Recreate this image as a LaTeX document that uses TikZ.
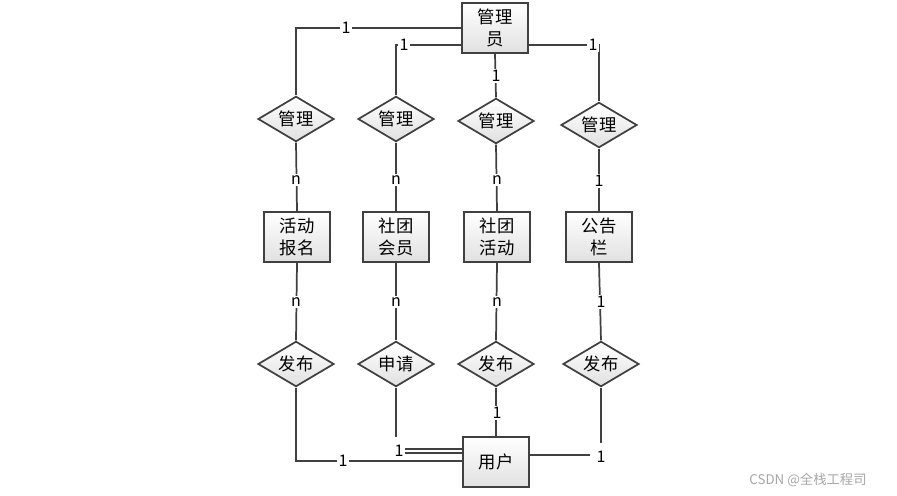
\documentclass[tikz,border=0pt]{standalone}
\usepackage{fontspec}
\setmainfont{Noto Sans CJK SC}
\usetikzlibrary{shapes.geometric}
\begin{document}
\begin{tikzpicture}[x=0.75pt,y=-0.75pt,
 ent/.style={draw=black!75,line width=1.3pt,top color=white,bottom color=black!12,minimum width=50pt,minimum height=38pt,inner sep=0pt,align=center,font=\fontsize{13}{16}\selectfont},
 rel/.style={diamond,aspect=1.67,draw=black!75,line width=1.3pt,top color=white,bottom color=black!12,minimum width=57pt,minimum height=34pt,inner sep=0pt,font=\fontsize{13}{15}\selectfont},
 ln/.style={draw=black!75,line width=1.3pt},
 lab/.style={fill=white,inner sep=1pt,font=\fontsize{12}{12}\selectfont}]
\useasboundingbox (0,0) rectangle (897,496);
\node[ent] (adm) at (495,28) {管理\\员};
\node[rel] (d1) at (296,119) {管理};
\node[rel] (d2) at (396,119) {管理};
\node[rel] (d3) at (496,121) {管理};
\node[rel] (d4) at (599,125) {管理};
\node[ent] (e1) at (297,237) {活动\\报名};
\node[ent] (e2) at (396,237) {社团\\会员};
\node[ent] (e3) at (497,237) {社团\\活动};
\node[ent] (e4) at (599,237) {公告\\栏};
\node[rel] (f1) at (296,364) {发布};
\node[rel] (f2) at (396,364) {申请};
\node[rel] (f3) at (496,364) {发布};
\node[rel] (f4) at (601,364) {发布};
\node[ent] (usr) at (496,462) {用户};
% top connectors
\draw[ln] (adm.west |- 0,28) -- (296,28) -- (d1.north);
\draw[ln] (adm.west |- 0,45) -- (396,45) -- (d2.north);
\draw[ln] (adm.east |- 0,45) -- (599,45) -- (d4.north);
\draw[ln] (adm.south) -- (d3.north);
\node[lab] (l1) at (346,28) {1};
\node[lab] (l2) at (404,45) {1};
\node[lab] (l3) at (593,45) {1};
\node[lab] (l4) at (496,76) {1};
% middle
\foreach \d/\e in {d1/e1,d2/e2,d3/e3,d4/e4,e1/f1,e2/f2,e3/f3,e4/f4}{\draw[ln] (\d.south) -- (\e.north);}
\node[lab] (n1) at (296,180) {n};
\node[lab] (n2) at (396,180) {n};
\node[lab] (n3) at (497,180) {n};
\node[lab] (n4) at (599,181) {1};
\node[lab] (m1) at (296,302) {n};
\node[lab] (m2) at (396,302) {n};
\node[lab] (m3) at (497,302) {n};
\node[lab] (m4) at (601,302) {1};
% bottom
\draw[ln] (f1.south) -- (296,461) -- (usr.west |- 0,461);
\node[lab] (b1) at (343,461) {1};
\draw[ln] (f2.south) -- (396,437);
\coordinate (c2a) at (405,449);
\coordinate (c2b) at (405,453);
\draw[ln] (c2a) -- (usr.west |- c2a);
\draw[ln] (c2b) -- (usr.west |- c2b);
\node[lab,fill=none] (b2) at (399,451) {1};
\draw[ln] (f3.south) -- (usr.north);
\node[lab] (b3) at (497,413) {1};
\draw[ln] (f4.south) -- (601,443);
\coordinate (c4) at (590,455);
\draw[ln] (usr.east |- c4) -- (c4);
\node[lab,fill=none] (b4) at (601,457) {1};
\node[text=black!35,font=\fontsize{10}{10}\selectfont] (wm) at (808,480) {CSDN @全栈工程司};
\end{tikzpicture}
\end{document}
